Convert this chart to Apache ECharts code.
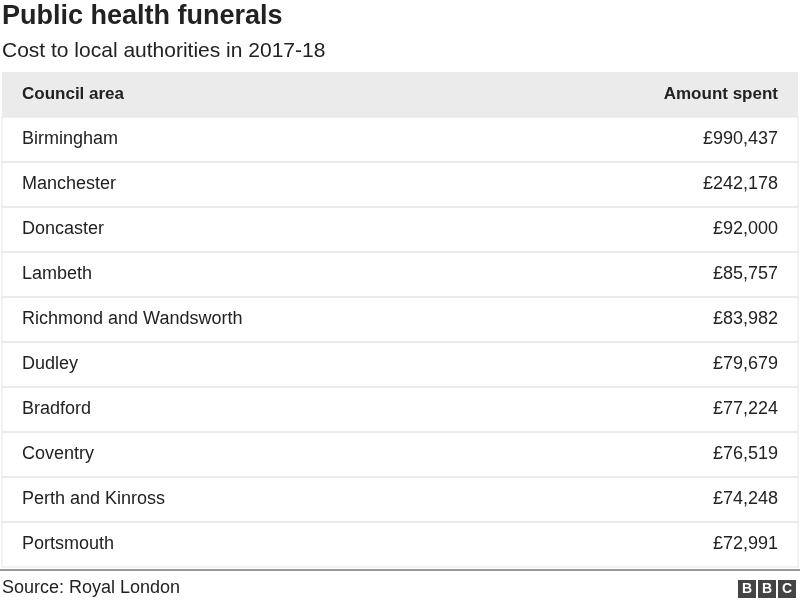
<!DOCTYPE html>
<html>
<head>
<meta charset="utf-8">
<script src="https://cdn.jsdelivr.net/npm/echarts@6/dist/echarts.min.js"></script>
<style>
  html, body { margin: 0; padding: 0; background: #fff; }
  #chart { width: 800px; height: 605px; }
</style>
</head>
<body>
<div id="chart"></div>
<script>
var councils = ['Birmingham', 'Manchester', 'Doncaster', 'Lambeth', 'Richmond and Wandsworth',
    'Dudley', 'Bradford', 'Coventry', 'Perth and Kinross', 'Portsmouth'];
var amounts = [990437, 242178, 92000, 85757, 83982, 79679, 77224, 76519, 74248, 72991];
var headers = ['Council area', 'Amount spent'];

var font = 'Arial, "Liberation Sans", sans-serif';
var top0 = 72, headH = 45, rowH = 45, left = 2, right = 798;

function fmt(v) {
    return '£' + v.toString().replace(/\B(?=(\d{3})+(?!\d))/g, ',');
}

var els = [
    { type: 'text', left: 2, top: 3, style: { text: 'Public health funerals', font: 'bold 27px ' + font, fill: '#222' } },
    { type: 'text', left: 2, top: 41, style: { text: 'Cost to local authorities in 2017-18', font: '21px ' + font, fill: '#222' } },
    { type: 'rect', shape: { x: left, y: top0, width: right - left, height: headH }, style: { fill: '#ebebeb' } },
    { type: 'text', x: 22, y: top0 + headH / 2, style: { text: headers[0], font: 'bold 17px ' + font, fill: '#222', verticalAlign: 'middle' } },
    { type: 'text', x: 778, y: top0 + headH / 2, style: { text: headers[1], font: 'bold 17px ' + font, fill: '#222', verticalAlign: 'middle', align: 'right' } }
];

councils.forEach(function (c, i) {
    var y = top0 + headH + i * rowH;
    els.push({ type: 'rect', shape: { x: left, y: y, width: right - left, height: rowH }, style: { fill: 'none', stroke: '#e4e4e4', lineWidth: 1 } });
    els.push({ type: 'text', x: 22, y: y + rowH / 2, style: { text: c, font: '18px ' + font, fill: '#222', verticalAlign: 'middle' } });
    els.push({ type: 'text', x: 778, y: y + rowH / 2, style: { text: fmt(amounts[i]), font: '18px ' + font, fill: '#222', verticalAlign: 'middle', align: 'right' } });
});

var bottom = top0 + headH + councils.length * rowH + 3;
els.push({ type: 'line', shape: { x1: 0, y1: bottom, x2: 800, y2: bottom }, style: { stroke: '#333', lineWidth: 1 } });
els.push({ type: 'text', x: 2, y: bottom + 18, style: { text: 'Source: Royal London', font: '18px ' + font, fill: '#222', verticalAlign: 'middle' } });
['B', 'B', 'C'].forEach(function (l, i) {
    var x = 738 + i * 20;
    els.push({ type: 'rect', shape: { x: x, y: bottom + 10, width: 18, height: 18 }, style: { fill: '#444' } });
    els.push({ type: 'text', x: x + 9, y: bottom + 19, style: { text: l, font: 'bold 14px ' + font, fill: '#fff', align: 'center', verticalAlign: 'middle' } });
});

var myChart = echarts.init(document.getElementById('chart'));
myChart.setOption({ backgroundColor: '#fff', graphic: els });
</script>
</body>
</html>
